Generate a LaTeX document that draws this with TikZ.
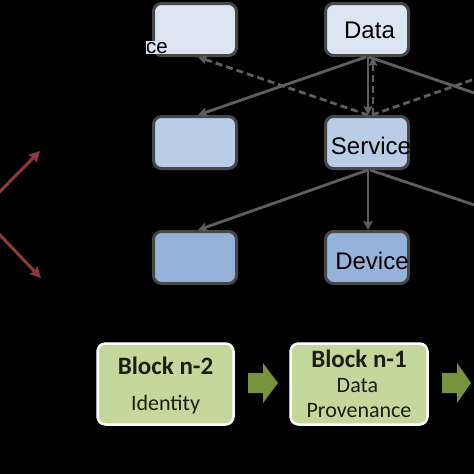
\documentclass[tikz,border=0pt]{standalone}
\usepackage{fontspec}
\setmainfont{Liberation Sans}
\newfontfamily\calfont{Carlito}
\usetikzlibrary{arrows.meta}
\definecolor{bgblack}{HTML}{000000}
\definecolor{rowA}{HTML}{DCE6F2}
\definecolor{rowB}{HTML}{B9CDE6}
\definecolor{rowC}{HTML}{95B3D9}
\definecolor{boxedge}{HTML}{474747}
\definecolor{linkgray}{HTML}{5E5E5E}
\definecolor{redarrow}{HTML}{8C3A3A}
\definecolor{blockfill}{HTML}{C4D79C}
\definecolor{blockarrow}{HTML}{77933C}
\definecolor{blocktext}{HTML}{1C2014}
\tikzset{
  bluebox/.style={draw=boxedge, line width=3pt, rounded corners=8pt,
    minimum width=83pt, minimum height=52pt, inner sep=0pt},
  boxlabel/.style={anchor=base, inner sep=0pt, font=\fontsize{24}{28}\selectfont, text=black},
  link/.style={draw=linkgray, line width=2.8pt, -{Stealth[length=9pt,width=9pt,inset=1.5pt]}},
  linkplain/.style={draw=linkgray, line width=2.8pt},
  dashlink/.style={link, dash pattern=on 7pt off 4pt},
  dashplain/.style={linkplain, dash pattern=on 7pt off 4pt},
  redlink/.style={draw=redarrow, line width=3pt, -{Stealth[length=11pt,width=11pt,inset=2pt]}},
  greenbox/.style={draw=white, fill=blockfill, line width=2.5pt, rounded corners=8pt,
    minimum width=136pt, minimum height=81pt, inner sep=0pt},
  blocktitle/.style={anchor=base, inner sep=0pt, text=blocktext, font=\calfont\bfseries\fontsize{25}{28}\selectfont},
  blocksub/.style={anchor=base, inner sep=0pt, text=blocktext, font=\calfont\fontsize{22}{26}\selectfont},
  greenarrow/.style={fill=blockarrow, draw=none}
}
\begin{document}
\begin{tikzpicture}[x=1pt,y=-1pt]
\fill[bgblack] (0,0) rectangle (474,474);
\useasboundingbox (0,0) rectangle (474,474);

% blue boxes
\node[bluebox, fill=rowA] (ref) at (195,29.5) {};
\node[bluebox, fill=rowA] (data) at (367,29.5) {};
\node[bluebox, fill=rowB] (midL) at (195,142.5) {};
\node[bluebox, fill=rowB] (service) at (367,142.5) {};
\node[bluebox, fill=rowC] (lowL) at (195,257.5) {};
\node[bluebox, fill=rowC] (device) at (367,257.5) {};

\node[boxlabel, anchor=base east, fill=rowA, inner sep=0.5pt, font=\fontsize{20.5}{24}\selectfont] (refText) at (168.5,53) {ce};
\node[boxlabel] (dataText) at (369.5,38) {Data};
\node[boxlabel] (serviceText) at (371,154) {Service};
\node[boxlabel] (deviceText) at (372,269) {Device};

% off-picture ends
\coordinate (outA) at (476,93.5);
\coordinate (outB) at (476,78.5);
\coordinate (outC) at (476,205.5);

% connectors
\draw[link] ([xshift=-1pt]data.south) -- ([xshift=3pt]midL.north);
\draw[linkplain] ([xshift=2pt]data.south) -- (outA);
\draw[dashlink] ([xshift=1pt]service.north) -- ([xshift=3pt]ref.south);
\draw[dashplain] ([xshift=5pt]service.north) -- (outB);
\draw[link] ([xshift=1pt]data.south) -- ([xshift=1pt]service.north);
\draw[dashlink] ([xshift=6pt]service.north) -- ([xshift=6pt]data.south);
\draw[link] ([xshift=1pt]service.south) -- ([xshift=3pt]lowL.north);
\draw[linkplain] ([xshift=3pt]service.south) -- (outC);
\draw[link] ([xshift=1pt]service.south) -- ([xshift=1pt]device.north);

% red arrows
\coordinate (redA) at (-2,193.5);
\coordinate (redAtip) at (40,151);
\coordinate (redB) at (-2,233);
\coordinate (redBtip) at (41,278);
\draw[redlink] (redA) -- (redAtip);
\draw[redlink] (redB) -- (redBtip);

% green blocks
\node[greenbox] (blockA) at (165.5,384) {};
\node[greenbox, minimum width=137pt] (blockB) at (359,384) {};
\node[blocktitle] (blockAtitle) at (165.5,374) {Block n-2};
\node[blocksub] (blockAsub) at (165.5,410) {Identity};
\node[blocktitle] (blockBtitle) at (359,367) {Block n-1};
\node[blocksub] (blockBsubA) at (357.5,392) {Data};
\node[blocksub] (blockBsubB) at (359,417) {Provenance};

% green block arrows
\fill[greenarrow] (248,373) -- (263,373) -- (263,363) -- (278,383) -- (263,403) -- (263,393) -- (248,393) -- cycle;
\fill[greenarrow] (442,373) -- (457,373) -- (457,363) -- (471,383) -- (457,403) -- (457,393) -- (442,393) -- cycle;
\end{tikzpicture}
\end{document}
